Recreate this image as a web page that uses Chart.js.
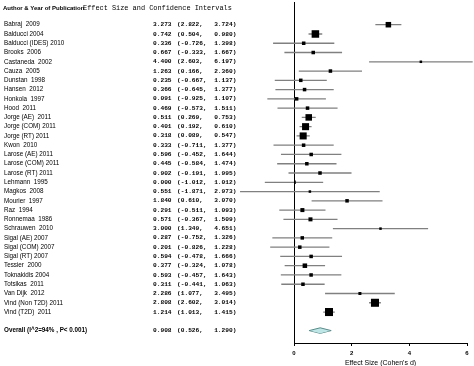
<!DOCTYPE html>
<html>
<head>
<meta charset="utf-8">
<script src="https://cdn.jsdelivr.net/npm/chart.js@4"></script>
<style>
  html, body { margin: 0; padding: 0; background: #fff; }
  #wrap { width: 474px; height: 366px; }
</style>
</head>
<body>
<div id="wrap"><canvas id="forest" width="474" height="366"></canvas></div>
<script>
// study labels, effect sizes and 95% CI
const studies = [
  'Babraj  2009', 'Balducci 2004', 'Balducci (IDES) 2010', 'Brooks  2006',
  'Castaneda  2002', 'Cauza  2005', 'Dunstan  1998', 'Hansen  2012',
  'Honkola  1997', 'Hood  2011', 'Jorge (AE)  2011', 'Jorge (COM) 2011',
  'Jorge (RT) 2011', 'Kwon  2010', 'Larose (AE) 2011', 'Larose (COM) 2011',
  'Larose (RT) 2011', 'Lehmann  1995', 'Magkos  2008', 'Mourier  1997',
  'Raz  1994', 'Ronnemaa  1986', 'Schrauwen  2010', 'Sigal (AE) 2007',
  'Sigal (COM) 2007', 'Sigal (RT) 2007', 'Tessier  2000', 'Toknakidis 2004',
  'Totsikas  2011', 'Van Dijk  2012', 'Vind (Non T2D) 2011', 'Vind (T2D)  2011'
];
const effect = [3.273, 0.742, 0.336, 0.667, 4.400, 1.263, 0.235, 0.366, 0.091, 0.469,
  0.511, 0.401, 0.318, 0.333, 0.596, 0.445, 0.902, 0.000, 0.551, 1.840, 0.291, 0.571,
  3.000, 0.287, 0.201, 0.594, 0.377, 0.593, 0.311, 2.286, 2.808, 1.214];
const lower = [2.822, 0.504, -0.726, -0.333, 2.603, 0.166, -0.667, -0.645, -0.925, -0.573,
  0.269, 0.192, 0.089, -0.711, -0.452, -0.584, -0.191, -1.012, -1.871, 0.610, -0.511, -0.367,
  1.349, -0.752, -0.826, -0.478, -0.324, -0.457, -0.441, 1.077, 2.602, 1.013];
const upper = [3.724, 0.980, 1.398, 1.667, 6.197, 2.360, 1.137, 1.377, 1.107, 1.511,
  0.753, 0.610, 0.547, 1.377, 1.644, 1.474, 1.995, 1.012, 2.973, 3.070, 1.093, 1.509,
  4.651, 1.326, 1.228, 1.666, 1.078, 1.643, 1.063, 3.495, 3.014, 1.415];
// relative study weights (drive square size)
const weights = [5.5, 7.5, 3.5, 3.5, 2.5, 3.5, 3.5, 3.5, 3.5, 3.5,
  6.5, 7, 7, 3.5, 3.5, 3.5, 3.5, 3.5, 2.5, 3.5, 4, 4,
  2.5, 3.5, 3.5, 3.5, 4.5, 3.5, 3.5, 3, 8, 8];

const overallLabel = 'Overall (I^2=94% , P< 0.001)';
const overall = [0.908, 0.526, 1.290];
const xTicks = [0, 2, 4, 6];

const overallRow = studies.length + 1;

// CI segments, separated by gaps
const ciData = [];
studies.forEach((s, i) => {
  ciData.push({x: lower[i], y: i}, {x: upper[i], y: i}, {x: null, y: null});
});
const pointData = studies.map((s, i) => ({x: effect[i], y: i}));

const fmt = v => v.toFixed(3);
const ciText = (lo, hi) => ('(' + fmt(lo) + ',').padEnd(8, ' ') + ' ' + fmt(hi).padStart(6, ' ') + ')';

const sans = '"Liberation Sans", Arial, sans-serif';
const mono = '"Liberation Mono", "Courier New", monospace';

const textColumns = {
  id: 'textColumns',
  afterDraw(chart) {
    const ctx = chart.ctx;
    const y = chart.scales.y;
    ctx.save();
    ctx.fillStyle = '#000';
    ctx.textBaseline = 'middle';
    ctx.font = 'bold 6px ' + sans;
    ctx.fillText('Author & Year of Publication', 3, 8);
    ctx.font = '6.9px ' + mono;
    ctx.fillText('Effect Size and Confidence Intervals', 83, 8);

    studies.forEach((s, i) => {
      const py = y.getPixelForValue(i);
      ctx.font = '6.3px ' + sans;
      ctx.fillText(s, 4, py);
      ctx.font = 'bold 6.2px ' + mono;
      ctx.fillText(fmt(effect[i]), 153, py);
      ctx.fillText(ciText(lower[i], upper[i]), 177, py);
    });
    const oy = y.getPixelForValue(overallRow);
    ctx.font = 'bold 6.3px ' + sans;
    ctx.fillText(overallLabel, 4, oy);
    ctx.font = 'bold 6.2px ' + mono;
    ctx.fillText(fmt(overall[0]), 153, oy);
    ctx.fillText(ciText(overall[1], overall[2]), 177, oy);
    ctx.restore();
  }
};

new Chart(document.getElementById('forest'), {
  type: 'scatter',
  data: {
    datasets: [
      {
        label: 'CI',
        data: ciData,
        showLine: true,
        spanGaps: false,
        borderColor: '#808080',
        borderWidth: 1.3,
        pointRadius: 0,
        clip: false,
        order: 2
      },
      {
        label: 'Effect',
        data: pointData,
        pointStyle: 'rect',
        pointRadius: weights.map(w => w * 0.71),
        backgroundColor: '#000',
        borderWidth: 0,
        order: 1
      },
      {
        label: 'Overall top',
        data: [{x: overall[1], y: overallRow}, {x: overall[0], y: overallRow - 0.3}, {x: overall[2], y: overallRow}],
        showLine: true,
        pointRadius: 0,
        borderColor: '#5a8a8a',
        borderWidth: 1,
        backgroundColor: '#bfe6e6',
        fill: '+1',
        order: 1
      },
      {
        label: 'Overall bottom',
        data: [{x: overall[1], y: overallRow}, {x: overall[0], y: overallRow + 0.3}, {x: overall[2], y: overallRow}],
        showLine: true,
        pointRadius: 0,
        borderColor: '#5a8a8a',
        borderWidth: 1,
        order: 1
      }
    ]
  },
  options: {
    responsive: false,
    animation: false,
    layout: {autoPadding: false, padding: {left: 294, right: 7, top: 2, bottom: -1}},
    plugins: {legend: {display: false}, tooltip: {enabled: false}},
    scales: {
      x: {
        type: 'linear',
        min: xTicks[0],
        max: xTicks[xTicks.length - 1],
        afterBuildTicks: axis => { axis.ticks = xTicks.map(v => ({value: v})); },
        border: {display: true, color: '#000', width: 1},
        grid: {
          drawOnChartArea: true,
          drawTicks: true,
          tickLength: 3,
          color: c => (c.tick && c.tick.value === 0) ? '#000' : 'rgba(0,0,0,0)',
          tickColor: '#000',
          lineWidth: 1
        },
        ticks: {
          color: '#000',
          padding: 4,
          font: {size: 6, family: sans, weight: 'bold', lineHeight: 1}
        },
        title: {
          display: true,
          text: "Effect Size (Cohen's d)",
          color: '#000',
          padding: {top: 0, bottom: 0},
          font: {size: 7, family: sans, lineHeight: 1}
        }
      },
      y: {
        type: 'linear',
        display: false,
        reverse: true,
        min: -2.45,
        max: 34.34
      }
    }
  },
  plugins: [textColumns]
});
</script>
</body>
</html>
